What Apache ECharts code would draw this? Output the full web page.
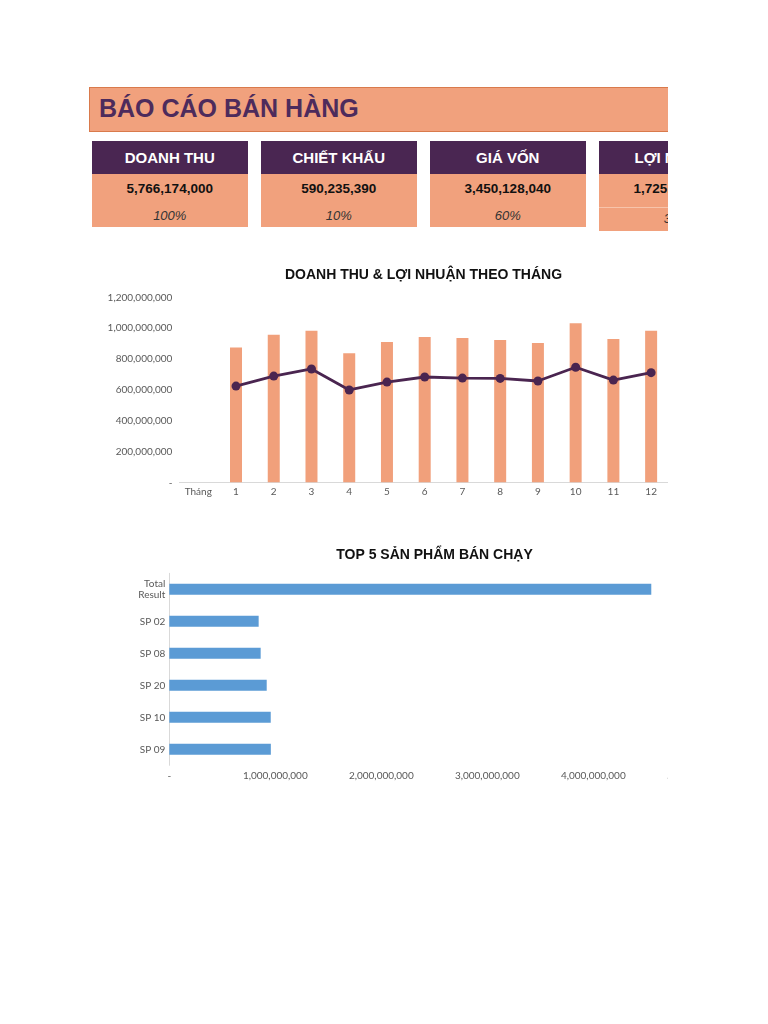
<!DOCTYPE html>
<html>
<head>
<meta charset="utf-8">
<script src="https://cdn.jsdelivr.net/npm/echarts@6/dist/echarts.min.js"></script>
<style>
  html, body { margin:0; padding:0; background:#fff; width:768px; height:1024px; overflow:hidden; }
  #clip { position:absolute; left:0; top:0; width:668px; height:1024px; overflow:hidden; }
  .titlebox { position:absolute; left:89px; top:87px; width:720px; height:45px; background:#F1A17D; border:1.5px solid #D97A4C; box-sizing:border-box; }
  .titlebox span { position:absolute; left:9px; top:5px; font:bold 25px "Liberation Sans", Arial, sans-serif; color:#4D2B5C; line-height:30px; white-space:nowrap; }
  .card { position:absolute; top:141px; width:155.5px; }
  .card .hd { height:32.5px; background:#4A2652; color:#fff; font:bold 15px "Liberation Sans", Arial, sans-serif; text-align:center; line-height:33px; white-space:nowrap; }
  .card .bd { position:relative; height:53.5px; background:#F1A17D; }
  .card .val { position:absolute; left:0; right:0; top:7px; text-align:center; font:bold 13.5px "Liberation Sans", Arial, sans-serif; color:#111; white-space:nowrap; line-height:16px; }
  .card .pct { position:absolute; left:0; right:0; top:34px; text-align:center; font:italic 13px "Liberation Sans", Arial, sans-serif; color:#333; white-space:nowrap; line-height:16px; }
  .card.last .bd { height:57.5px; }
  .card.last .sep { position:absolute; left:0; right:0; top:33.5px; height:1px; background:#F7C4AB; }
  .card.last .pct { top:37px; }
  #c1 { position:absolute; left:0; top:250px; width:768px; height:260px; }
  #c2 { position:absolute; left:0; top:530px; width:768px; height:270px; }
</style>
</head>
<body>
<div id="clip">
  <div class="titlebox"><span id="mainTitle"></span></div>
  <div id="cards"></div>
  <div id="c1"></div>
  <div id="c2"></div>
</div>
<script>
// ---- data ----
const reportTitle = 'BÁO CÁO BÁN HÀNG';
const cardTitles = ['DOANH THU', 'CHIẾT KHẤU', 'GIÁ VỐN', 'LỢI NHUẬN'];
const cardValues = [5766174000, 590235390, 3450128040, 1725810570];
const cardPcts = ['100%', '10%', '60%', '30%'];

const chart1Title = 'DOANH THU & LỢI NHUẬN THEO THÁNG';
const months = ['Tháng', '1', '2', '3', '4', '5', '6', '7', '8', '9', '10', '11', '12'];
const revenue = [null, 875000000, 957000000, 983000000, 837000000, 910000000, 942000000, 936000000, 923000000, 903000000, 1031000000, 929000000, 983000000];
const profit = [null, 624000000, 689000000, 735000000, 599000000, 650000000, 683000000, 676000000, 674000000, 657000000, 746000000, 663000000, 711000000];

const chart2Title = 'TOP 5 SẢN PHẨM BÁN CHẠY';
const products = ['Total Result', 'SP 02', 'SP 08', 'SP 20', 'SP 10', 'SP 09'];
const productSales = [4547000000, 843000000, 862000000, 919000000, 957000000, 958000000];

// ---- header ----
const fmt = v => v.toLocaleString('en-US');
document.getElementById('mainTitle').textContent = reportTitle;
const cardLefts = [92, 261, 430, 599];
const cardsEl = document.getElementById('cards');
cardTitles.forEach((t, i) => {
  const c = document.createElement('div');
  c.className = 'card' + (i === cardTitles.length - 1 ? ' last' : '');
  c.style.left = cardLefts[i] + 'px';
  c.innerHTML = '<div class="hd"></div><div class="bd"><div class="val"></div>' +
    (i === cardTitles.length - 1 ? '<div class="sep"></div>' : '') + '<div class="pct"></div></div>';
  c.querySelector('.hd').textContent = t;
  c.querySelector('.val').textContent = fmt(cardValues[i]);
  c.querySelector('.pct').textContent = cardPcts[i];
  cardsEl.appendChild(c);
});

// ---- chart 1 ----
const axisFont = { fontFamily: 'Lato, "Open Sans", sans-serif', fontSize: 10, color: '#595959' };
const c1 = echarts.init(document.getElementById('c1'), null, { renderer: 'canvas' });
c1.setOption({
  animation: false,
  graphic: [{ type: 'text', style: { text: chart1Title, x: 423.5, y: 25, align: 'center', verticalAlign: 'middle',
    font: 'bold 14px "Liberation Sans", Arial, sans-serif', fill: '#111' } }],
  grid: { left: 179.4, right: 98, top: 47.3, height: 185 },
  xAxis: {
    type: 'category', data: months, boundaryGap: true,
    axisLine: { lineStyle: { color: '#D9D9D9', width: 1 } },
    axisTick: { show: false },
    axisLabel: Object.assign({ margin: 4, interval: 0 }, axisFont)
  },
  yAxis: {
    type: 'value', min: 0, max: 1200000000, interval: 200000000,
    axisLine: { show: false }, axisTick: { show: false }, splitLine: { show: false },
    axisLabel: Object.assign({ margin: 7, formatter: v => v === 0 ? '-' : fmt(v) }, axisFont)
  },
  series: [
    { type: 'bar', data: revenue, barWidth: 12, itemStyle: { color: '#F1A07B' } },
    { type: 'line', data: profit, symbol: 'circle', symbolSize: 9,
      lineStyle: { color: '#4A2550', width: 2.8 }, itemStyle: { color: '#4A2550' } }
  ]
});

// ---- chart 2 ----
const c2 = echarts.init(document.getElementById('c2'), null, { renderer: 'canvas' });
c2.setOption({
  animation: false,
  graphic: [{ type: 'text', style: { text: chart2Title, x: 434.5, y: 25, align: 'center', verticalAlign: 'middle',
    font: 'bold 14px "Liberation Sans", Arial, sans-serif', fill: '#111' } }],
  grid: { left: 169.3, right: 68.7, top: 43.3, height: 192 },
  xAxis: {
    type: 'value', min: 0, max: 5000000000, interval: 1000000000,
    axisLine: { show: false }, axisTick: { show: false }, splitLine: { show: false },
    axisLabel: Object.assign({ margin: 5, formatter: v => v === 0 ? '-' : fmt(v) }, axisFont)
  },
  yAxis: {
    type: 'category', data: products, inverse: true,
    axisLine: { lineStyle: { color: '#D9D9D9', width: 1 } },
    axisTick: { show: false },
    axisLabel: Object.assign({ margin: 4, interval: 0, lineHeight: 11, align: 'right',
      formatter: v => v === 'Total Result' ? 'Total\nResult' : v }, axisFont)
  },
  series: [
    { type: 'bar', data: productSales, barWidth: 11, itemStyle: { color: '#5B9BD5' } }
  ]
});
</script>
</body>
</html>
